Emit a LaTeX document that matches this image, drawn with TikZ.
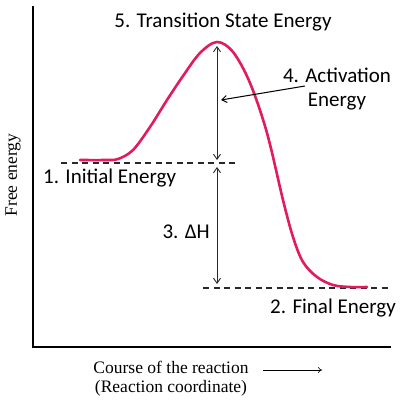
\documentclass[tikz,border=0pt]{standalone}
\usepackage{fontspec}
\setmainfont{Liberation Serif}
\newfontfamily\labelfont{Carlito}
\usetikzlibrary{arrows.meta}
\definecolor{curvecol}{RGB}{224,28,92}
\definecolor{linecol}{RGB}{40,40,40}
\tikzset{
  lbl/.style={font=\labelfont\fontsize{21}{24}\selectfont, inner sep=0pt},
  axlbl/.style={font=\fontsize{17.5}{19}\selectfont, inner sep=0pt},
  dashline/.style={dashed, dash pattern=on 6pt off 4.5pt, line width=1.1pt, draw=linecol},
  dimarrow/.style={draw=linecol, line width=0.9pt, {Straight Barb[length=5pt,width=7pt]}-{Straight Barb[length=5pt,width=7pt]}},
  ptrarrow/.style={draw=black, line width=1pt, -{Straight Barb[length=5pt,width=7pt]}},
}
\begin{document}
\begin{tikzpicture}[x=1pt,y=-1pt]
\useasboundingbox (0,0) rectangle (399,403);
% axes
\coordinate (ytop) at (33,6);
\coordinate (origin) at (33,347);
\coordinate (xend) at (391,347);
\draw[line width=1.6pt] (ytop) -- (origin) -- (xend);
\node[axlbl, rotate=90] (ylabel) at (13,175) {Free energy};
% dashed levels
\coordinate (i1) at (61,163);
\coordinate (i2) at (236,163);
\coordinate (f1) at (203,288);
\coordinate (f2) at (389,288);
\draw[dashline] (i1) -- (i2);
\draw[dashline] (f1) -- (f2);
% curve
\draw[curvecol, line width=2.6pt, line cap=round] plot[smooth, tension=0.55] coordinates {
 (80,160) (105,160) (118,159) (133,150) (150,127) (167,100) (183,76) (200,53) (217,42)
 (233,52) (250,83) (267,133) (283,200) (293,237) (303,262) (317,277) (333,285) (350,287) (367,287)};
% arrows
\coordinate (ea1) at (217,46);
\coordinate (ea2) at (217,160);
\coordinate (dh1) at (217,167);
\coordinate (dh2) at (217,284);
\draw[dimarrow] (ea1) -- (ea2);
\draw[dimarrow] (dh1) -- (dh2);
\coordinate (ptrend) at (221,100);
\coordinate (ptrstart) at (305,86);
\draw[ptrarrow] (ptrstart) -- (ptrend);
% labels
\node[lbl] (ts) at (223,22) {5. Transition State Energy};
\node[lbl, align=center] (act) at (337,89) {4. Activation\\[0pt]Energy};
\node[lbl, anchor=west] (init) at (43,178) {1. Initial Energy};
\node[lbl, anchor=east] (dh) at (210,232) {3. ΔH};
\node[lbl, anchor=east] (fin) at (396,308) {2. Final Energy};
\node[axlbl, align=center] (xl) at (171,379) {Course of the reaction\\(Reaction coordinate)};
\coordinate (xa1) at (263,370);
\coordinate (xa2) at (322,370);
\draw[line width=0.6pt, -{To[length=4pt,width=6pt]}] (xa1) -- (xa2);
\end{tikzpicture}
\end{document}
